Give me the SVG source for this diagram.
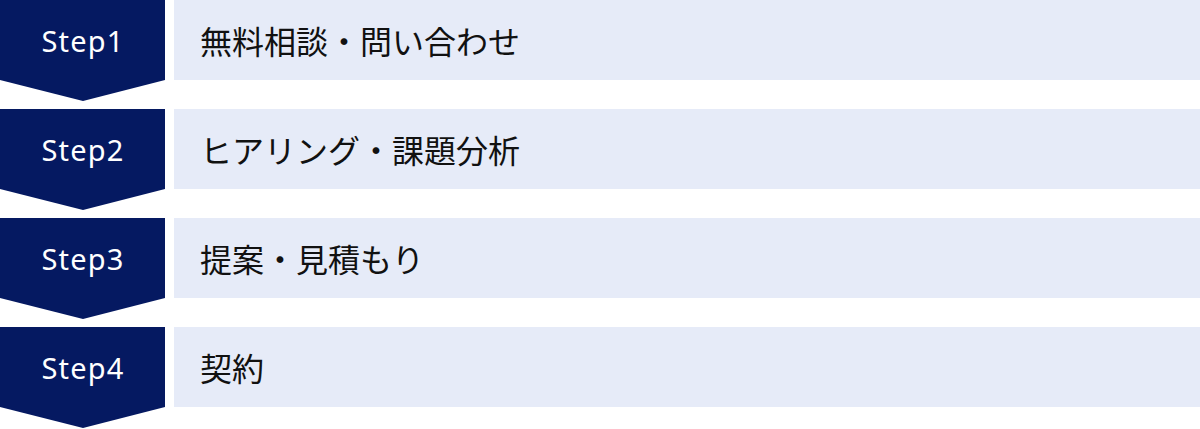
<svg xmlns="http://www.w3.org/2000/svg" width="1200" height="429" viewBox="0 0 1200 429">
  <style>
    .badge { fill: #051961; }
    .bar { fill: #E6EBF8; }
    .step { font-family: "Noto Sans", "Noto Sans CJK JP", sans-serif; font-size: 29px; fill: #ffffff; text-anchor: middle; letter-spacing: 1.2px; }
    .label { font-family: "Noto Sans CJK JP", "Noto Sans", sans-serif; font-size: 32px; fill: #111111; dominant-baseline: central; }
  </style>
  <defs>
    <polygon id="chev" points="0,0 165,0 165,80 83,101 0,80"/>
  </defs>
  <g id="step1">
    <use href="#chev" class="badge" transform="translate(0,0)"/>
    <rect class="bar" x="174" y="0" width="1026" height="80"/>
    <text class="step" x="83" y="51.5">Step1</text>
    <text class="label" x="200" y="40">無料相談・問い合わせ</text>
  </g>
  <g id="step2">
    <use href="#chev" class="badge" transform="translate(0,109)"/>
    <rect class="bar" x="174" y="109" width="1026" height="80"/>
    <text class="step" x="83" y="160.5">Step2</text>
    <text class="label" x="200" y="149">ヒアリング・課題分析</text>
  </g>
  <g id="step3">
    <use href="#chev" class="badge" transform="translate(0,218)"/>
    <rect class="bar" x="174" y="218" width="1026" height="80"/>
    <text class="step" x="83" y="269.5">Step3</text>
    <text class="label" x="200" y="258">提案・見積もり</text>
  </g>
  <g id="step4">
    <use href="#chev" class="badge" transform="translate(0,327)"/>
    <rect class="bar" x="174" y="327" width="1026" height="80"/>
    <text class="step" x="83" y="378.5">Step4</text>
    <text class="label" x="200" y="367">契約</text>
  </g>
  <g id="connectors"></g>
</svg>
